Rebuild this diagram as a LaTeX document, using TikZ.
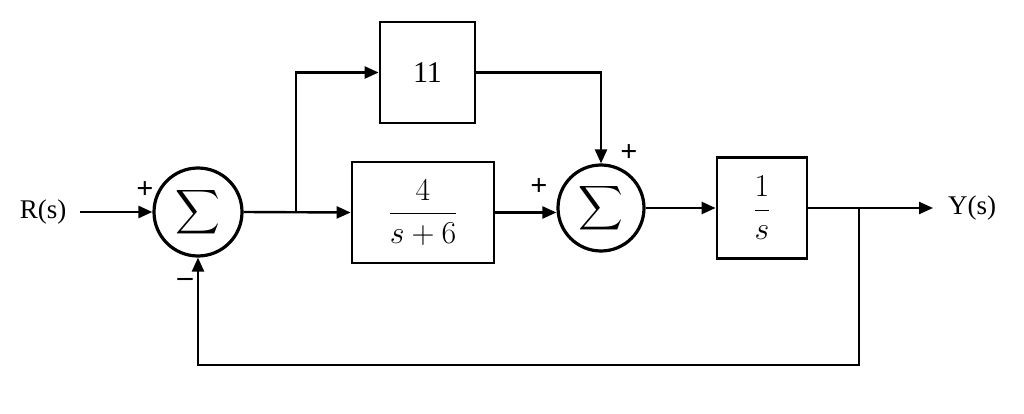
\documentclass[tikz,border=0pt]{standalone}
\usepackage{graphicx}
\usepackage{fontspec}
\setmainfont{Liberation Serif}
\usetikzlibrary{arrows.meta}
\newcommand{\bigsig}{\scalebox{3.1}{$\displaystyle\sum$}}
\newcommand{\bigfrac}[2]{\scalebox{1.28}{$\displaystyle\frac{#1}{#2}$}}
\begin{document}
\begin{tikzpicture}[x=1pt,y=1pt,
  every node/.style={font=\fontsize{27}{32}\selectfont},
  blk/.style={draw,line width=2.8pt,minimum height=101pt,inner sep=0pt},
  sumnode/.style={draw,circle,line width=3.2pt,minimum size=88pt,inner sep=0pt},
  wire/.style={line width=2.4pt},
  arr/.style={wire,-{Triangle[length=14pt,width=12pt]}},
  sgn/.style={font=\fontsize{30}{34}\selectfont\bfseries,inner sep=0pt}]
\useasboundingbox (0,0) rectangle (1024,413);
% nodes
\node (R) at (43,201) {R(s)};
\node[sumnode] (s1) at (198,201) {\bigsig};
\node[blk,minimum width=95pt,font=\fontsize{30}{34}\selectfont] (b11) at (427.5,340.5) {11};
\node[blk,minimum width=142pt] (b2) at (423,200.5) {\bigfrac{4}{s+6}};
\node[sumnode,minimum size=86pt] (s2) at (601,205) {\bigsig};
\node[blk,minimum width=90pt] (b3) at (762,205) {\bigfrac{1}{s}};
\node (Y) at (972,205) {Y(s)};
\coordinate (br1) at (296,201);
\coordinate (br2) at (859,205);
\coordinate (Rs) at (80,201);
\coordinate (Yend) at (933,205);
\coordinate (fb) at (859,48);
% connectors
\draw[arr] (Rs) -- (s1.west);
\draw[arr] (s1.east) -- (b2.west);
\draw[arr] (br1) |- (b11.west);
\draw[arr] (b11.east) -| (s2.north);
\draw[arr] (b2.east) -- (b2.east -| s2.west);
\draw[arr] (s2.east) -- (b3.west);
\draw[arr] (b3.east) -- (Yend);
\draw[arr] (br2) -- (fb) -| (s1.south);
% signs
\node[sgn] (p1) at (145,223) {+};
\node[sgn] (m1) at (185,131) {–};
\node[sgn] (p2) at (539,226) {+};
\node[sgn] (p3) at (629,260) {+};
\end{tikzpicture}
\end{document}
